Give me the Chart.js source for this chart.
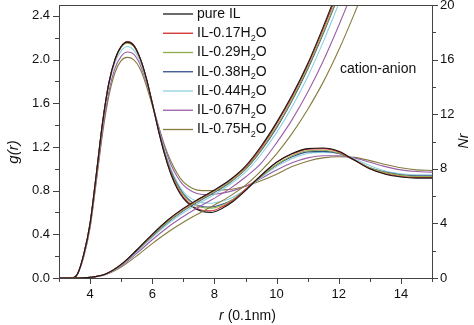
<!DOCTYPE html>
<html><head><meta charset="utf-8">
<script src="https://cdn.jsdelivr.net/npm/chart.js@4.4.1/dist/chart.umd.min.js"></script>
<style>html,body{margin:0;padding:0;background:#fff;}#wrap{width:474px;height:325px;}</style>
</head><body><div id="wrap"><canvas id="c" width="474" height="325"></canvas></div>
<script>
// ---- series meta ----
const seriesLabels = ['pure IL','IL-0.17H\u2082O','IL-0.29H\u2082O','IL-0.38H\u2082O','IL-0.44H\u2082O','IL-0.67H\u2082O','IL-0.75H\u2082O'];
const seriesColors = ['#1a1a1a','#d42a2a','#8fae4c','#34508a','#8fcfe0','#9a5ea6','#857b3c'];

// ---- tick labels ----
const rTicks = [4,6,8,10,12,14];
const rMinor = [3,5,7,9,11,13,15];
const gTicks = [0,0.4,0.8,1.2,1.6,2.0,2.4];
const gMinor = [0.2,0.6,1.0,1.4,1.8,2.2];
const nrTicks = [0,4,8,12,16,20];
const nrMinor = [2,6,10,14,18];

// ---- g(r) curves (left axis) ----
const rG = [3,3.4,3.6,3.8,4.0,4.2,4.4,4.6,4.8,5.0,5.2,5.4,5.6,5.8,6.0,6.2,6.4,6.6,6.8,7.0,7.3,7.6,7.9,8.2,8.6,9.0,9.5,10,10.5,11,11.5,12,12.5,13,13.5,14,14.5,15];
const gPure = [0,0,0.04,0.22,0.5,0.95,1.42,1.78,2.0,2.12,2.16,2.13,2.02,1.84,1.6,1.35,1.13,0.95,0.82,0.73,0.65,0.61,0.6,0.63,0.7,0.8,0.94,1.06,1.14,1.185,1.19,1.16,1.08,1.0,0.95,0.925,0.915,0.915];
const g017 = [0,0,0.04,0.22,0.5,0.95,1.42,1.78,2.0,2.12,2.165,2.135,2.02,1.84,1.6,1.35,1.13,0.96,0.83,0.74,0.66,0.62,0.615,0.645,0.71,0.81,0.94,1.06,1.135,1.18,1.185,1.155,1.08,1.0,0.955,0.93,0.92,0.92];
const g029 = [0,0,0.04,0.22,0.5,0.95,1.42,1.78,1.99,2.11,2.15,2.12,2.01,1.83,1.6,1.35,1.14,0.97,0.85,0.76,0.68,0.645,0.64,0.66,0.72,0.81,0.93,1.04,1.12,1.165,1.17,1.145,1.08,1.01,0.965,0.94,0.93,0.93];
const g038 = [0,0,0.04,0.22,0.5,0.95,1.42,1.78,2.0,2.12,2.16,2.13,2.02,1.84,1.61,1.36,1.15,0.98,0.86,0.77,0.69,0.655,0.65,0.67,0.72,0.81,0.93,1.035,1.11,1.155,1.16,1.14,1.08,1.01,0.97,0.945,0.935,0.935];
const g044 = [0,0,0.04,0.21,0.49,0.94,1.4,1.75,1.97,2.08,2.12,2.09,1.99,1.82,1.6,1.37,1.17,1.0,0.88,0.79,0.72,0.69,0.685,0.7,0.74,0.81,0.92,1.02,1.095,1.14,1.15,1.14,1.09,1.03,0.98,0.955,0.945,0.945];
const g067 = [0,0,0.04,0.2,0.47,0.9,1.35,1.7,1.92,2.03,2.07,2.05,1.96,1.8,1.6,1.39,1.2,1.04,0.93,0.85,0.79,0.765,0.765,0.775,0.8,0.84,0.91,0.99,1.055,1.1,1.12,1.12,1.1,1.06,1.02,0.99,0.975,0.97];
const g075 = [0,0,0.04,0.2,0.46,0.88,1.32,1.66,1.88,1.99,2.02,2.0,1.92,1.77,1.58,1.39,1.21,1.07,0.96,0.88,0.82,0.8,0.8,0.805,0.815,0.84,0.89,0.95,1.02,1.07,1.1,1.11,1.105,1.075,1.04,1.01,0.99,0.985];

// ---- Nr curves (right axis) ----
const rN = [3,3.5,4,4.5,5,5.5,6,6.5,7,7.5,8,8.5,9,9.5,10,10.5,11,11.5,12,12.5,13];
const nPure = [0,0,0.05,0.3,1.0,2.05,3.2,4.25,5.1,5.8,6.45,7.2,8.2,9.65,11.4,13.4,15.7,18.4,21.3,24.3,27.5];
const n017 = [0,0,0.05,0.3,1.0,2.05,3.18,4.22,5.07,5.77,6.42,7.15,8.12,9.55,11.3,13.3,15.6,18.25,21.1,24.1,27.3];
const n029 = [0,0,0.05,0.29,0.97,2.0,3.1,4.12,4.97,5.67,6.32,7.05,8.0,9.4,11.1,13.1,15.4,18.0,20.8,23.8,27.0];
const n038 = [0,0,0.05,0.29,0.96,1.98,3.07,4.08,4.92,5.62,6.27,7.0,7.95,9.33,11.0,13.0,15.3,17.9,20.7,23.6,26.8];
const n044 = [0,0,0.05,0.28,0.93,1.92,2.98,3.96,4.78,5.47,6.12,6.85,7.75,9.05,10.65,12.55,14.75,17.3,20.1,23.0,26.2];
const n067 = [0,0,0.04,0.26,0.87,1.8,2.8,3.72,4.5,5.2,5.85,6.55,7.4,8.4,9.9,11.6,13.6,15.9,18.5,21.3,24.3];
const n075 = [0,0,0.04,0.25,0.8,1.62,2.52,3.35,4.08,4.73,5.35,6.0,6.8,7.85,9.1,10.6,12.35,14.35,16.7,19.35,22.2];

const gSeries = [gPure,g017,g029,g038,g044,g067,g075];
const nSeries = [nPure,n017,n029,n038,n044,n067,n075];

const FONT = '"Liberation Sans", Arial, Helvetica, sans-serif';
const AXIS = '#444';
const pts = (xs, ys) => xs.map((x,i)=>({x, y: ys[i]}));

const datasets = [];
nSeries.forEach((s,i)=>datasets.push({label: seriesLabels[i]+' Nr', data: pts(rN,s), yAxisID:'y2', borderColor: seriesColors[i]}));
gSeries.forEach((s,i)=>datasets.push({label: seriesLabels[i], data: pts(rG,s), yAxisID:'y', borderColor: seriesColors[i]}));

const noPad = s => { s.paddingTop = 0; s.paddingBottom = 0; s.paddingLeft = 0; s.paddingRight = 0; };

const overlay = {
  id: 'overlay',
  afterDraw(chart){
    const ctx = chart.ctx, ca = chart.chartArea;
    const sx = chart.scales.x, sy = chart.scales.y, s2 = chart.scales.y2;
    ctx.save();
    ctx.strokeStyle = AXIS; ctx.lineWidth = 1;
    // top frame
    ctx.beginPath(); ctx.moveTo(ca.left, Math.round(ca.top)+0.5); ctx.lineTo(ca.right, Math.round(ca.top)+0.5); ctx.stroke();
    // tick marks
    const tx = (vals, len) => vals.forEach(v=>{ const p = Math.round(sx.getPixelForValue(v))+0.5; ctx.beginPath(); ctx.moveTo(p, ca.bottom); ctx.lineTo(p, ca.bottom+len); ctx.stroke(); });
    const tyl = (vals, len) => vals.forEach(v=>{ const p = Math.round(sy.getPixelForValue(v))+0.5; ctx.beginPath(); ctx.moveTo(ca.left, p); ctx.lineTo(ca.left-len, p); ctx.stroke(); });
    const tyr = (vals, len) => vals.forEach(v=>{ const p = Math.round(s2.getPixelForValue(v))+0.5; ctx.beginPath(); ctx.moveTo(ca.right, p); ctx.lineTo(ca.right+len, p); ctx.stroke(); });
    tx(rTicks, 6); tx(rMinor, 4); tyl(gTicks, 6); tyl(gMinor, 4); tyr(nrTicks, 6); tyr(nrMinor, 4);

    // legend with subscripts
    ctx.textBaseline = 'middle';
    seriesLabels.forEach((lab,i)=>{
      const y = ca.top + 9 + i*19.25;
      ctx.strokeStyle = seriesColors[i]; ctx.lineWidth = 1.3;
      ctx.beginPath(); ctx.moveTo(ca.left+104, y); ctx.lineTo(ca.left+134, y); ctx.stroke();
      ctx.fillStyle = '#111';
      let x = ca.left + 138;
      const parts = lab.split('\u2082');
      ctx.font = '14px ' + FONT;
      ctx.fillText(parts[0], x, y);
      if (parts.length > 1) {
        x += ctx.measureText(parts[0]).width;
        ctx.font = '9px ' + FONT;
        ctx.fillText('2', x, y + 5);
        x += ctx.measureText('2').width;
        ctx.font = '14px ' + FONT;
        ctx.fillText(parts[1], x, y);
      }
    });

    // annotation
    ctx.font = '14px ' + FONT; ctx.fillStyle = '#111'; ctx.textAlign = 'left';
    ctx.fillText('cation-anion', 340, 69);

    // x title: italic r + (0.1nm)
    const t1 = 'r', t2 = ' (0.1nm)';
    ctx.font = 'italic 14px ' + FONT; const w1 = ctx.measureText(t1).width;
    ctx.font = '14px ' + FONT; const w2 = ctx.measureText(t2).width;
    let x0 = (ca.left + ca.right)/2 + 2 - (w1+w2)/2;
    ctx.font = 'italic 14px ' + FONT; ctx.fillText(t1, x0, 316);
    ctx.font = '14px ' + FONT; ctx.fillText(t2, x0 + w1, 316);

    // left title
    ctx.save(); ctx.translate(14, 152); ctx.rotate(-Math.PI/2);
    ctx.textAlign = 'center'; ctx.font = 'italic 15px ' + FONT; ctx.fillText('g(r)', 0, 0); ctx.restore();
    // right title
    ctx.save(); ctx.translate(464, 141); ctx.rotate(-Math.PI/2);
    ctx.textAlign = 'center'; ctx.font = 'italic 14px ' + FONT; ctx.fillText('Nr', 0, 0); ctx.restore();
    ctx.restore();
  }
};

new Chart(document.getElementById('c'), {
  type: 'line',
  data: { datasets },
  options: {
    responsive: false, animation: false, devicePixelRatio: 1,
    layout: { padding: { top: 5, left: 0, right: 0, bottom: 0 } },
    elements: { point: { radius: 0 }, line: { borderWidth: 1.1, cubicInterpolationMode: 'monotone', fill: false } },
    plugins: { legend: { display: false }, tooltip: { enabled: false } },
    scales: {
      x: {
        type: 'linear', min: 3, max: 15,
        afterBuildTicks: s => { s.ticks = rTicks.map(v=>({value:v})); },
        afterFit: s => { s.height = 47; noPad(s); },
        ticks: { font: { family: FONT, size: 13 }, color: '#111', padding: 9, maxRotation: 0 },
        grid: { drawOnChartArea: false, drawTicks: false },
        border: { color: AXIS, width: 1 }
      },
      y: {
        position: 'left', min: 0, max: 2.5,
        afterBuildTicks: s => { s.ticks = gTicks.map(v=>({value:v})); },
        afterFit: s => { s.width = 59; noPad(s); },
        ticks: { font: { family: FONT, size: 13 }, color: '#111', padding: 9, callback: v => Number(v).toFixed(1) },
        grid: { drawOnChartArea: false, drawTicks: false },
        border: { color: AXIS, width: 1 }
      },
      y2: {
        position: 'right', min: 0, max: 20,
        afterBuildTicks: s => { s.ticks = nrTicks.map(v=>({value:v})); },
        afterFit: s => { s.width = 42; noPad(s); },
        ticks: { font: { family: FONT, size: 13 }, color: '#111', padding: 8, callback: v => String(v) },
        grid: { drawOnChartArea: false, drawTicks: false },
        border: { color: AXIS, width: 1 }
      }
    }
  },
  plugins: [overlay]
});
</script></body></html>
